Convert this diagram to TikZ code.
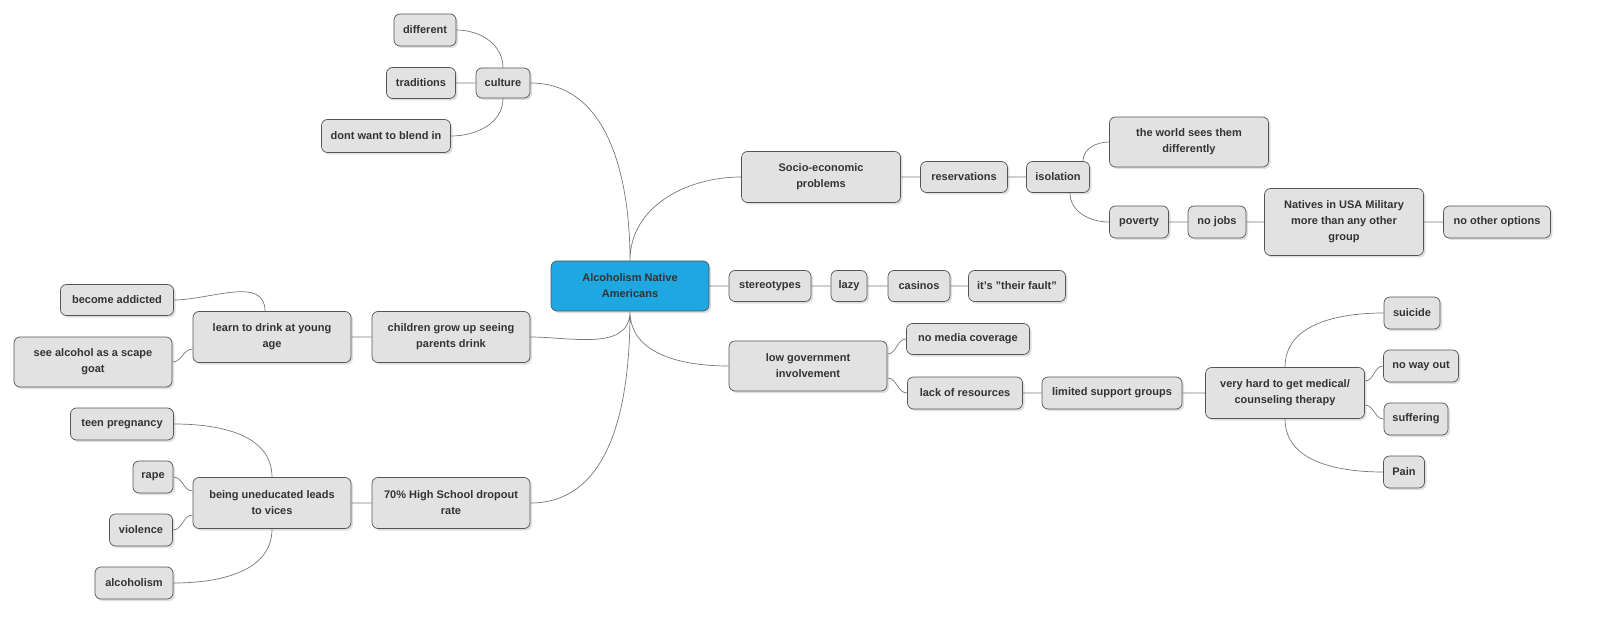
\documentclass[tikz,border=0pt]{standalone}
\usepackage{fontspec}
\setmainfont{Liberation Sans}
\usetikzlibrary{shadows}
\definecolor{bx}{HTML}{E2E2E2}
\definecolor{bd}{HTML}{555555}
\definecolor{tx}{HTML}{333333}
\definecolor{rootc}{HTML}{1EA7E0}
\newcommand\bx[5]{\node[box,minimum width=#4pt,minimum height=#5pt] (#1) at (#2) {#3};}
\begin{document}
\begin{tikzpicture}[x=1pt,y=-1pt,
  box/.style={draw=bd,fill=bx,rounded corners=6pt,align=center,text=tx,
    font=\fontsize{11}{16}\selectfont\bfseries,inner sep=0pt,line width=0.7pt,
    drop shadow={opacity=0.25,shadow xshift=2pt,shadow yshift=-2pt}},
  conn/.style={draw=bd!80,line width=0.7pt}]
\node[box,fill=rootc,minimum width=158pt,minimum height=50pt] (root) at (630,286) {Alcoholism Native\\Americans};
\bx{culture}{503,83}{culture}{54}{30}
\bx{different}{425,30}{different}{62}{32}
\bx{traditions}{421,83}{traditions}{69}{31}
\bx{blend}{386,136}{dont want to blend in}{129}{33}
\bx{soc}{821,177}{Socio-economic\\problems}{159}{51}
\bx{res}{964,177}{reservations}{87}{31}
\bx{iso}{1058,177}{isolation}{63}{31}
\bx{world}{1189,142}{the world sees them\\differently}{159}{50}
\bx{pov}{1139,222}{poverty}{59}{32}
\bx{jobs}{1217,222}{no jobs}{58}{32}
\bx{mil}{1344,222}{Natives in USA Military\\more than any other\\group}{159}{67}
\bx{opt}{1497,222}{no other options}{107}{32}
\bx{ster}{770,286}{stereotypes}{82}{31}
\bx{lazy}{849,286}{lazy}{36}{31}
\bx{cas}{919,286}{casinos}{62}{31}
\bx{fault}{1017,286}{it's "their fault"}{97}{31}
\bx{gov}{808,366}{low government\\involvement}{158}{50}
\bx{media}{968,339}{no media coverage}{123}{31}
\bx{lack}{965,393}{lack of resources}{115}{32}
\bx{sup}{1112,393}{limited support groups}{140}{32}
\bx{vh}{1285,393}{very hard to get medical/\\counseling therapy}{159}{51}
\bx{sui}{1412,313}{suicide}{56}{32}
\bx{way}{1421,366}{no way out}{75}{32}
\bx{suf}{1416,419}{suffering}{64}{32}
\bx{pain}{1404,472}{Pain}{41}{32}
\bx{child}{451,337}{children grow up seeing\\parents drink}{158}{51}
\bx{learn}{272,337}{learn to drink at young\\age}{158}{51}
\bx{addict}{117,300}{become addicted}{113}{31}
\bx{scape}{93,362}{see alcohol as a scape\\goat}{158}{50}
\bx{drop}{451,503}{70\% High School dropout\\rate}{158}{51}
\bx{unedu}{272,503}{being uneducated leads\\to vices}{158}{51}
\bx{teen}{122,424}{teen pregnancy}{103}{32}
\bx{rape}{153,477}{rape}{40}{32}
\bx{viol}{141,530}{violence}{63}{32}
\bx{alc}{134,583}{alcoholism}{78}{32}
\path[conn]
 (root.north) to[out=90,in=0] (culture.east)
 (culture.north) to[out=90,in=0] (different.east)
 (culture.west) -- (traditions.east)
 (culture.south) to[out=-90,in=0] (blend.east)
 (root.north) to[out=90,in=180] (soc.west)
 (soc.east) -- (res.west)
 (res.east) -- (iso.west)
 ([xshift=25pt]iso.north) to[out=90,in=180] (world.west)
 ([xshift=12pt]iso.south) to[out=-90,in=180] (pov.west)
 (pov.east) -- (jobs.west)
 (jobs.east) -- (mil.west)
 (mil.east) -- (opt.west)
 (root.east) -- (ster.west)
 (ster.east) -- (lazy.west)
 (lazy.east) -- (cas.west)
 (cas.east) -- (fault.west)
 (root.south) to[out=-90,in=180] (gov.west)
 ([yshift=12pt]gov.east) to[out=0,in=180] (media.west)
 ([yshift=-12pt]gov.east) to[out=0,in=180] (lack.west)
 (lack.east) -- (sup.west)
 (sup.east) -- (vh.west)
 (vh.north) to[out=90,in=180] (sui.west)
 ([yshift=12pt]vh.east) to[out=0,in=180] (way.west)
 ([yshift=-12pt]vh.east) to[out=0,in=180] (suf.west)
 (vh.south) to[out=-90,in=180] (pain.west)
 (root.south) to[out=-90,in=0] (child.east)
 (child.west) -- (learn.east)
 ([xshift=-7pt]learn.north) to[out=90,in=0] (addict.east)
 ([yshift=-12pt]learn.west) to[out=180,in=0] (scape.east)
 (root.south) to[out=-90,in=0] (drop.east)
 (drop.west) -- (unedu.east)
 (unedu.north) to[out=90,in=0] (teen.east)
 ([yshift=12pt]unedu.west) to[out=180,in=0] (rape.east)
 ([yshift=-12pt]unedu.west) to[out=180,in=0] (viol.east)
 (unedu.south) to[out=-90,in=0] (alc.east);
\pgfresetboundingbox
\useasboundingbox (0,0) rectangle (1600,628);
\end{tikzpicture}
\end{document}
